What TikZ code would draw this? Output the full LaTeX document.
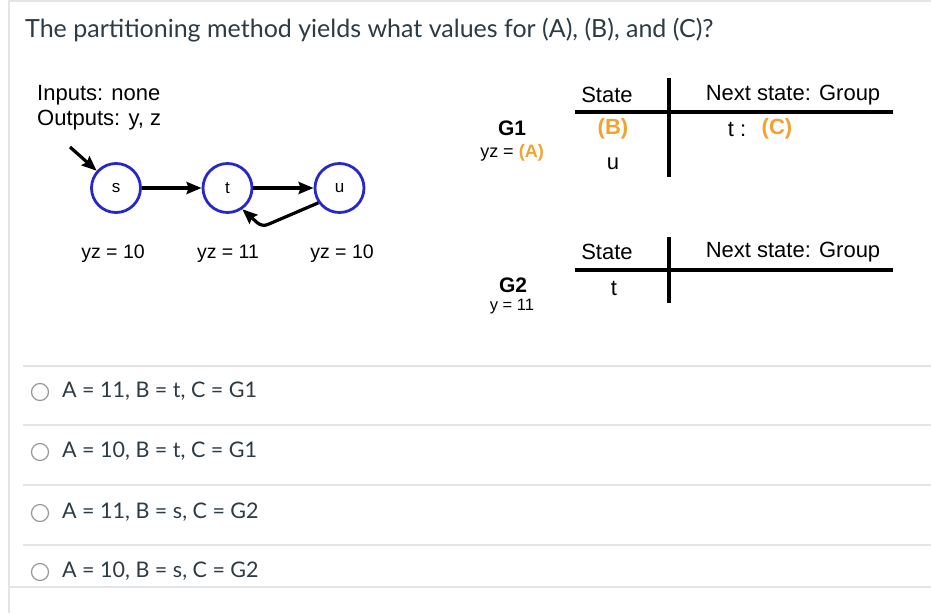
\documentclass[tikz,border=0pt]{standalone}
\usepackage{fontspec}
\setmainfont{Liberation Sans}
\newfontfamily\latofont{Lato}
\usetikzlibrary{arrows.meta}
\definecolor{txt}{HTML}{2D3B45}
\definecolor{rule}{HTML}{E2E4E6}
\definecolor{orng}{HTML}{F2A22E}
\definecolor{stblue}{HTML}{2828C8}
\tikzset{
  st/.style={circle, draw=stblue, line width=2.8pt, minimum size=49pt, inner sep=0pt, font=\fontsize{17}{20}\selectfont},
  arr/.style={line width=3.2pt, -{Stealth[length=15pt,width=12pt,inset=2pt]}},
  lbl/.style={inner sep=0pt, font=\fontsize{22}{26}\selectfont},
  small/.style={inner sep=0pt, font=\fontsize{19.5}{23}\selectfont},
  grp/.style={inner sep=0pt, font=\fontsize{21}{25}\selectfont\bfseries},
  tab/.style={line width=3.6pt},
  sep/.style={draw=rule, line width=1.2pt},
  opt/.style={inner sep=0pt, anchor=west, text=txt, font=\latofont\fontsize{21.5}{25}\selectfont},
  radio/.style={circle, draw=gray!80, line width=1.2pt, minimum size=17pt, inner sep=0pt},
  hi/.style={text=orng, font=\fontsize{22}{26}\selectfont\bfseries}
}
\begin{document}
\begin{tikzpicture}[x=1pt,y=-1pt]
\useasboundingbox (0,0) rectangle (931,613);
\fill[white] (0,0) rectangle (931,613);
% frame
\draw[sep] (9,0) -- (9,613);
\draw[sep] (9,1) -- (931,1);
% title
\node[anchor=base west, inner sep=0pt, text=txt, font=\latofont\fontsize{25}{30}\selectfont] (title) at (25,37) {The partitioning method yields what values for (A), (B), and (C)?};
% left header
\node[lbl, anchor=west] (inp) at (37,95) {Inputs: none};
\node[lbl, anchor=west] (outp) at (37,120) {Outputs: y, z};
% states
\node[st] (s) at (116,188) {s};
\node[st] (t) at (227.5,188) {t};
\node[st] (u) at (339.5,188) {u};
\coordinate (init) at (70,147);
\coordinate (k) at (262,227);
\draw[arr] (init) -- (s);
\draw[arr] (s) -- (t);
\draw[arr] (t) -- (u);
\draw[arr, rounded corners=6pt] (u.215) -- (k) -- (t.-55);
\node[small] (ls) at (113,254) {yz = 10};
\node[small] (lt) at (228,254) {yz = 11};
\node[small] (lu) at (342,254) {yz = 10};
% table G1
\node[grp] (g1) at (512,128) {G1};
\node[small, font=\fontsize{18}{22}\selectfont] (g1o) at (512,153) {yz = \textcolor{orng}{\bfseries (A)}};
\coordinate (h1a) at (575,112); \coordinate (h1b) at (893,112);
\coordinate (v1a) at (669,78); \coordinate (v1b) at (669,177);
\draw[tab] (h1a) -- (h1b);
\draw[tab] (v1a) -- (v1b);
\node[lbl] (st1) at (607,95) {State};
\node[lbl] (ns1) at (793,95) {Next state: Group};
\node[lbl, hi] (b) at (613,129) {(B)};
\node[lbl] (tc) at (737,129) {t :};
\node[lbl, hi] (c) at (777,129) {(C)};
\node[lbl] (uu) at (613,164) {u};
% table G2
\node[grp] (g2) at (513,285) {G2};
\node[small, font=\fontsize{16.5}{20}\selectfont] (g2o) at (512,307) {y = 11};
\coordinate (h2a) at (575,270); \coordinate (h2b) at (893,270);
\coordinate (v2a) at (669,237); \coordinate (v2b) at (669,303);
\draw[tab] (h2a) -- (h2b);
\draw[tab] (v2a) -- (v2b);
\node[lbl] (st2) at (607,252) {State};
\node[lbl] (ns2) at (793,252) {Next state: Group};
\node[lbl] (tt) at (614,288) {t};
% options
\draw[sep] (23,366) -- (931,366);
\draw[sep] (23,425) -- (931,425);
\draw[sep] (23,485) -- (931,485);
\draw[sep] (23,545) -- (931,545);
\draw[sep] (9,587) -- (931,587);
\node[radio] (r1) at (40,392) {};
\node[opt] (o1) at (62,391) {A = 11, B = t, C = G1};
\node[radio] (r2) at (40,452) {};
\node[opt] (o2) at (62,451) {A = 10, B = t, C = G1};
\node[radio] (r3) at (40,513) {};
\node[opt] (o3) at (62,512) {A = 11, B = s, C = G2};
\node[radio] (r4) at (40,572) {};
\node[opt] (o4) at (62,571) {A = 10, B = s, C = G2};
\end{tikzpicture}
\end{document}
